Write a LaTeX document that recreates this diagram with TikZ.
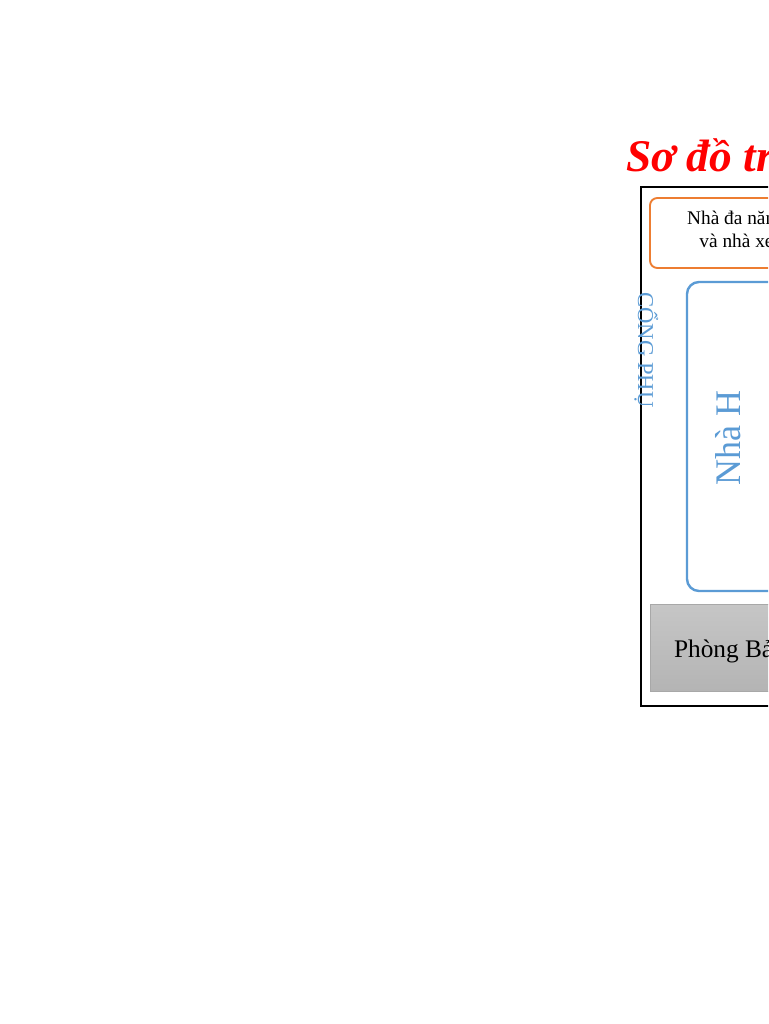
\documentclass[tikz,border=0pt]{standalone}
\usepackage{fontspec}
\setmainfont{Liberation Serif}
\definecolor{titlered}{HTML}{FF0000}
\definecolor{orangeb}{HTML}{ED7D31}
\definecolor{blueb}{HTML}{5B9BD5}
\definecolor{grayt}{HTML}{C6C6C6}
\definecolor{grayb}{HTML}{B4B4B4}
\definecolor{grayd}{HTML}{A8A8A8}
\begin{document}
\begin{tikzpicture}[x=0.75pt,y=-0.75pt,
  lbl/.style={inner sep=0pt,outer sep=0pt},
  roomorange/.style={draw=orangeb,line width=1.4pt,rounded corners=5.5pt},
  roomblue/.style={draw=blueb,line width=1.8pt,rounded corners=9pt},
  roomgray/.style={draw=grayd,line width=0.5pt,top color=grayt,bottom color=grayb},
  frame/.style={draw=black,line width=1.5pt}]
\useasboundingbox (0,0) rectangle (768,1024);
\clip (0,0) rectangle (768,1024);
\fill[white] (0,0) rectangle (768,1024);
% title
\node[lbl,anchor=base west,text=titlered] (title) at (626,171)
  {\fontsize{34}{40}\selectfont\bfseries\itshape Sơ đồ trường};
% outer frame
\draw[frame] (641,187) rectangle (1000,706);
% orange box
\draw[roomorange] (650,198) rectangle (822,268);
\node[lbl,anchor=base] (nd1) at (736,224) {\fontsize{14.5}{17}\selectfont Nhà đa năng};
\node[lbl,anchor=base] (nd2) at (736.5,247) {\fontsize{14.5}{17}\selectfont và nhà xe};
% blue box
\draw[roomblue] (687,282) rectangle (900,591);
\node[lbl,anchor=base,rotate=90,text=blueb] (nhah) at (740,438)
  {\fontsize{27}{32}\selectfont Nhà H};
% side gate
\node[lbl,anchor=base,rotate=-90,text=blueb] (cong) at (638,350)
  {\fontsize{17}{20}\selectfont CỔNG PHỤ};
% gray box
\draw[roomgray] (650,604) rectangle (900,691);
\node[lbl,anchor=base west] (bv) at (674,657) {\fontsize{19}{23}\selectfont Phòng Bảo vệ};
\end{tikzpicture}
\end{document}
